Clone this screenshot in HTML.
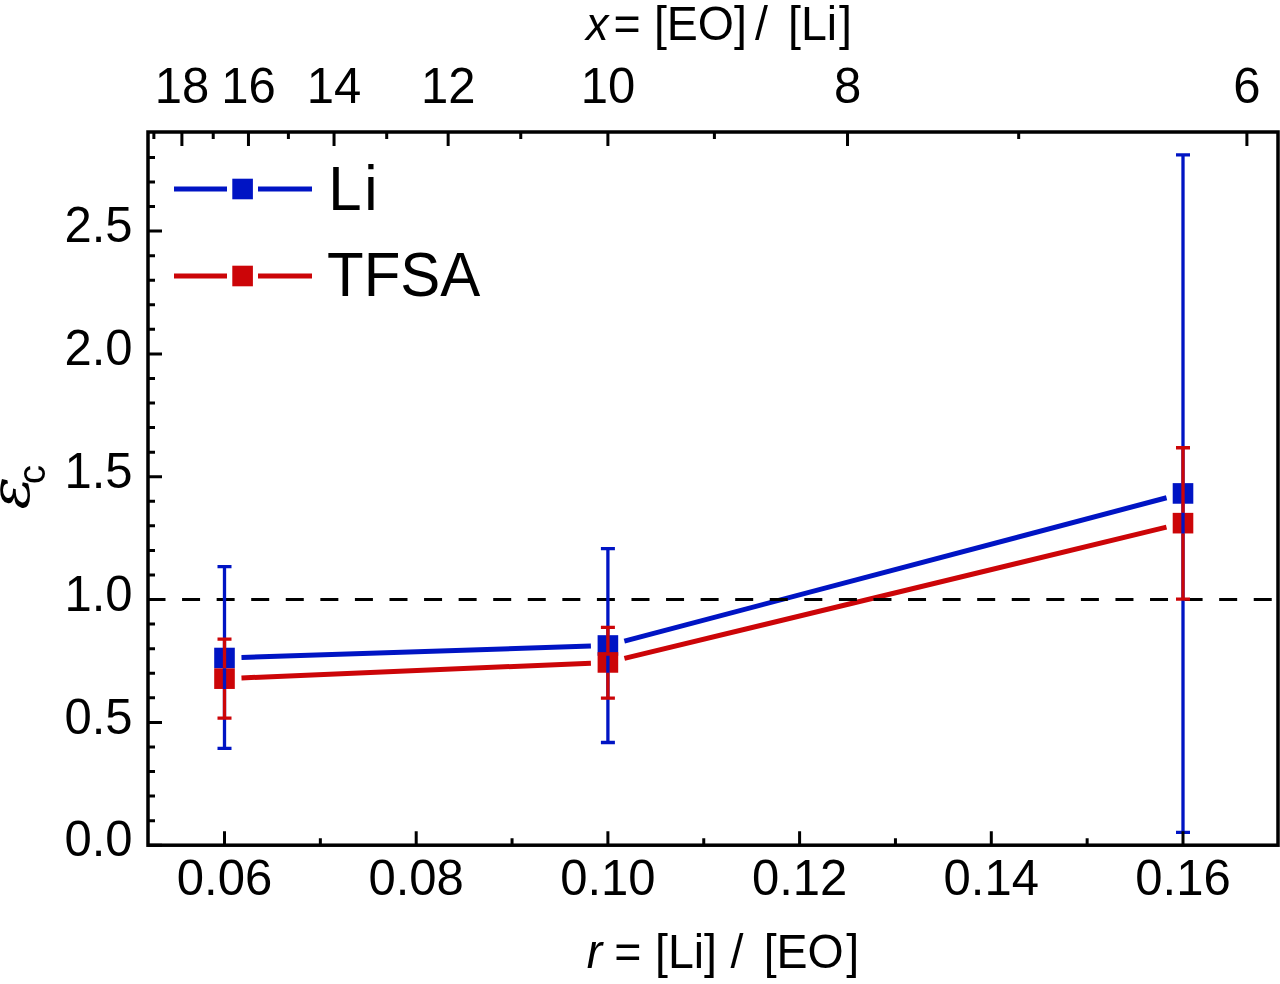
<!DOCTYPE html>
<html><head><meta charset="utf-8"><style>
html,body{margin:0;padding:0;background:#fff;width:1280px;height:984px;overflow:hidden}
svg{display:block}
</style></head><body>
<svg width="1280" height="984" viewBox="0 0 1280 984">
<rect width="1280" height="984" fill="#fff"/>
<line x1="241.49" y1="657.46" x2="590.91" y2="646.04" stroke="#0014c4" stroke-width="5.0"/>
<line x1="624.34" y1="641.14" x2="1166.56" y2="497.77" stroke="#0014c4" stroke-width="5.0"/>
<line x1="241.48" y1="677.93" x2="590.92" y2="663.15" stroke="#cc0508" stroke-width="5.0"/>
<line x1="624.42" y1="658.43" x2="1166.48" y2="527.15" stroke="#cc0508" stroke-width="5.0"/>
<line x1="147.5" y1="599.55" x2="1278.0" y2="599.55" stroke="#000" stroke-width="3.0" stroke-dasharray="18 16.57"/>
<rect x="214.20" y="647.71" width="20.6" height="20.6" fill="#0014c4"/>
<rect x="597.60" y="635.19" width="20.6" height="20.6" fill="#0014c4"/>
<rect x="1172.70" y="483.13" width="20.6" height="20.6" fill="#0014c4"/>
<rect x="214.20" y="668.35" width="20.6" height="20.6" fill="#cc0508"/>
<rect x="597.60" y="652.14" width="20.6" height="20.6" fill="#cc0508"/>
<rect x="1172.70" y="512.85" width="20.6" height="20.6" fill="#cc0508"/>
<path d="M224.50 647.71V566.63M224.50 668.31V748.41M217.50 566.63h14.0M217.50 748.41h14.0" stroke="#0014c4" stroke-width="3.3" fill="none"/>
<path d="M607.90 635.19V548.70M607.90 655.79V742.52M600.90 548.70h14.0M600.90 742.52h14.0" stroke="#0014c4" stroke-width="3.3" fill="none"/>
<path d="M1183.00 483.13V154.92M1183.00 503.73V832.30M1176.00 154.92h14.0M1176.00 832.30h14.0" stroke="#0014c4" stroke-width="3.3" fill="none"/>
<path d="M224.50 668.35V639.10M224.50 688.95V718.20M217.50 639.10h14.0M217.50 718.20h14.0" stroke="#cc0508" stroke-width="3.3" fill="none"/>
<path d="M607.90 652.14V627.31M607.90 672.74V698.06M600.90 627.31h14.0M600.90 698.06h14.0" stroke="#cc0508" stroke-width="3.3" fill="none"/>
<path d="M1183.00 512.85V447.74M1183.00 533.45V599.06M1176.00 447.74h14.0M1176.00 599.06h14.0" stroke="#cc0508" stroke-width="3.3" fill="none"/>
<path d="M224.50 845.2v-14 M416.20 845.2v-14 M607.90 845.2v-14 M799.60 845.2v-14 M991.30 845.2v-14 M1183.00 845.2v-14 M320.35 845.2v-7 M512.05 845.2v-7 M703.75 845.2v-7 M895.45 845.2v-7 M1087.15 845.2v-7 M181.90 132.0v14 M248.46 132.0v14 M334.04 132.0v14 M448.15 132.0v14 M607.90 132.0v14 M847.52 132.0v14 M1246.90 132.0v14 M153.87 132.0v7 M213.22 132.0v7 M288.40 132.0v7 M386.71 132.0v7 M520.76 132.0v7 M714.40 132.0v7 M1018.69 132.0v7 M148.0 845.20h14 M148.0 820.63h7 M148.0 796.07h7 M148.0 771.51h7 M148.0 746.94h7 M148.0 722.38h14 M148.0 697.81h7 M148.0 673.25h7 M148.0 648.68h7 M148.0 624.12h7 M148.0 599.55h14 M148.0 574.99h7 M148.0 550.42h7 M148.0 525.86h7 M148.0 501.29h7 M148.0 476.73h14 M148.0 452.16h7 M148.0 427.60h7 M148.0 403.03h7 M148.0 378.47h7 M148.0 353.90h14 M148.0 329.34h7 M148.0 304.77h7 M148.0 280.21h7 M148.0 255.64h7 M148.0 231.08h14 M148.0 206.51h7 M148.0 181.94h7 M148.0 157.38h7" stroke="#000" stroke-width="3.0" fill="none"/>
<rect x="148.0" y="132.0" width="1130.0" height="713.2" fill="none" stroke="#000" stroke-width="3.5"/>
<g font-family="'Liberation Sans', Arial, sans-serif" font-size="49" fill="#000"><text x="224.50" y="894.8" text-anchor="middle" transform="matrix(1 0 0 1.02 0 -17.896)">0.06</text><text x="416.20" y="894.8" text-anchor="middle" transform="matrix(1 0 0 1.02 0 -17.896)">0.08</text><text x="607.90" y="894.8" text-anchor="middle" transform="matrix(1 0 0 1.02 0 -17.896)">0.10</text><text x="799.60" y="894.8" text-anchor="middle" transform="matrix(1 0 0 1.02 0 -17.896)">0.12</text><text x="991.30" y="894.8" text-anchor="middle" transform="matrix(1 0 0 1.02 0 -17.896)">0.14</text><text x="1183.00" y="894.8" text-anchor="middle" transform="matrix(1 0 0 1.02 0 -17.896)">0.16</text><text x="181.90" y="103" text-anchor="middle" transform="matrix(1 0 0 1.02 0 -2.060)">18</text><text x="248.46" y="103" text-anchor="middle" transform="matrix(1 0 0 1.02 0 -2.060)">16</text><text x="334.04" y="103" text-anchor="middle" transform="matrix(1 0 0 1.02 0 -2.060)">14</text><text x="448.15" y="103" text-anchor="middle" transform="matrix(1 0 0 1.02 0 -2.060)">12</text><text x="607.90" y="103" text-anchor="middle" transform="matrix(1 0 0 1.02 0 -2.060)">10</text><text x="847.52" y="103" text-anchor="middle" transform="matrix(1 0 0 1.02 0 -2.060)">8</text><text x="1246.90" y="103" text-anchor="middle" transform="matrix(1 0 0 1.02 0 -2.060)">6</text><text x="132.6" y="856.50" text-anchor="end" transform="matrix(1 0 0 1.02 0 -17.130)">0.0</text><text x="132.6" y="733.67" text-anchor="end" transform="matrix(1 0 0 1.02 0 -14.674)">0.5</text><text x="132.6" y="610.85" text-anchor="end" transform="matrix(1 0 0 1.02 0 -12.217)">1.0</text><text x="132.6" y="488.03" text-anchor="end" transform="matrix(1 0 0 1.02 0 -9.761)">1.5</text><text x="132.6" y="365.20" text-anchor="end" transform="matrix(1 0 0 1.02 0 -7.304)">2.0</text><text x="132.6" y="242.38" text-anchor="end" transform="matrix(1 0 0 1.02 0 -4.848)">2.5</text></g>
<g font-family="'Liberation Sans', Arial, sans-serif" font-size="46.5" fill="#000" transform="matrix(1 0 0 1.03 0 -1.212)"><text x="586.00" y="40.4" font-style="italic"><tspan font-size="45">x</tspan></text><text x="613.53" y="40.4">=</text><text x="653.89" y="40.4">[EO]</text><text x="755.00" y="40.4">/</text><text x="787.99" y="40.4">[Li<tspan dx="2">]</tspan></text></g>
<g font-family="'Liberation Sans', Arial, sans-serif" font-size="46.5" fill="#000" transform="matrix(1 0 0 1.03 0 -29.034)"><text x="586.81" y="967.8" font-style="italic">r</text><text x="614.23" y="967.8">=</text><text x="654.99" y="967.8">[Li]</text><text x="730.60" y="967.8">/</text><text x="763.69" y="967.8">[EO<tspan dx="2.5">]</tspan></text></g>
<g transform="translate(29.3,509.60) rotate(-90) scale(1,0.9)" fill="#000"><text x="0" y="0" font-size="61" font-family="'DejaVu Serif', serif" font-style="italic">ε</text></g>
<g transform="translate(44.8,484.10) rotate(-90)" fill="#000"><text x="0" y="0" font-size="38" font-family="'Liberation Sans', Arial, sans-serif">c</text></g>
<line x1="174" y1="189" x2="227" y2="189" stroke="#0014c4" stroke-width="5.0"/>
<line x1="258" y1="189" x2="312" y2="189" stroke="#0014c4" stroke-width="5.0"/>
<rect x="232.30" y="178.70" width="20.6" height="20.6" fill="#0014c4"/>
<line x1="174" y1="276" x2="227" y2="276" stroke="#cc0508" stroke-width="5.0"/>
<line x1="258" y1="276" x2="312" y2="276" stroke="#cc0508" stroke-width="5.0"/>
<rect x="232.30" y="265.70" width="20.6" height="20.6" fill="#cc0508"/>
<g font-family="'Liberation Sans', Arial, sans-serif" font-size="60" fill="#000"><text x="328.28" y="210" transform="matrix(1 0 0 1.035 0 -7.350)">L<tspan dx="2.5">i</tspan></text><text x="327.05" y="295.8" transform="matrix(1 0 0 1.035 0 -10.353)">TFSA</text></g>
</svg></body></html>
